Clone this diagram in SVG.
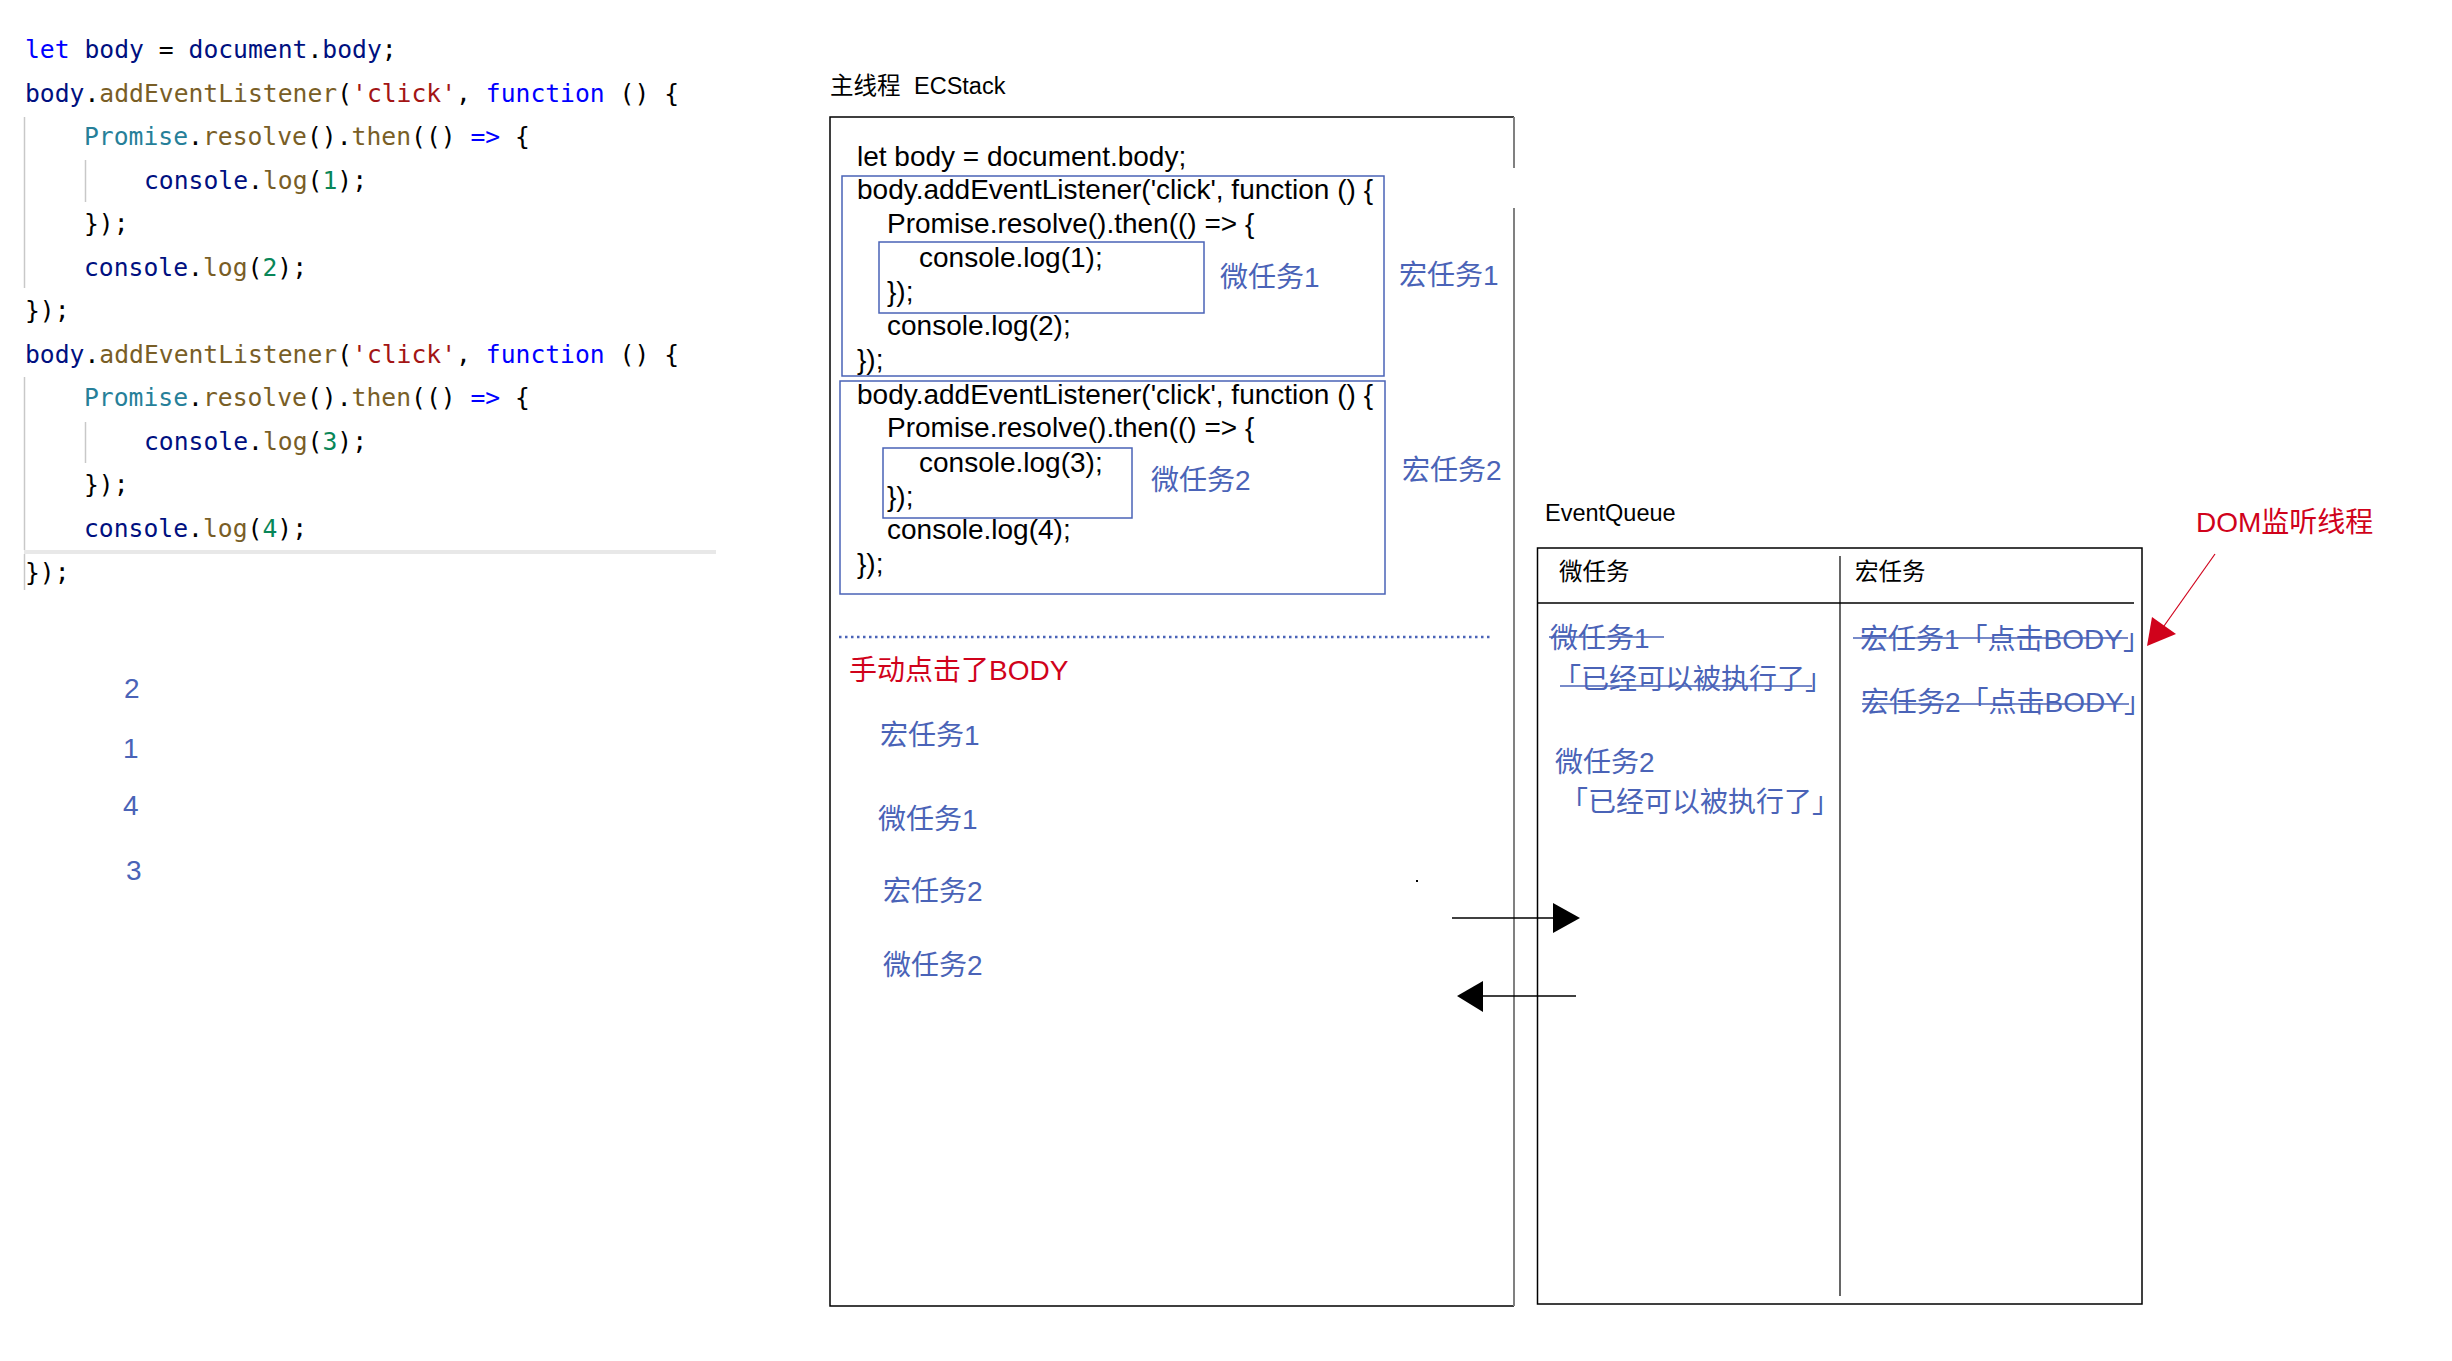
<svg xmlns="http://www.w3.org/2000/svg" width="2452" height="1361" viewBox="0 0 2452 1361">
<style>
.code{font-family:"DejaVu Sans Mono","Liberation Mono",monospace;font-size:24.7px;fill:#000;white-space:pre}
.kw{fill:#0000ff}.vr{fill:#001080}.fn{fill:#795e26}.st{fill:#a31515}.ty{fill:#267f99}.nm{fill:#098658}
.js{font-family:"Liberation Sans",Arial,sans-serif;font-size:28px;fill:#000}
.lbl{font-family:"Liberation Sans","Noto Sans CJK SC",sans-serif;font-size:28px;fill:#4a63b7}
.red{font-family:"Liberation Sans","Noto Sans CJK SC",sans-serif;font-size:28px;fill:#d0021b}
.hd{font-family:"Liberation Sans","Noto Sans CJK SC",sans-serif;font-size:23.5px;fill:#000}
.bbox{fill:none;stroke:#4a63b7;stroke-width:1.5}
.strike{stroke:#4a63b7;stroke-width:1.5}
.guide{stroke:#c8c8c8;stroke-width:1.5}
</style>
<rect width="2452" height="1361" fill="#fff"/>

<g id="code-editor">
  <rect x="24" y="550" width="692" height="4" fill="#e8e8e8"/>
  <line class="guide" x1="24.5" y1="117" x2="24.5" y2="288"/>
  <line class="guide" x1="85.5" y1="160" x2="85.5" y2="202"/>
  <line class="guide" x1="24.5" y1="377" x2="24.5" y2="550"/>
  <line class="guide" x1="85.5" y1="422" x2="85.5" y2="463"/>
  <line class="guide" x1="24.5" y1="554" x2="24.5" y2="590"/>
  <text class="code" x="25" y="58"><tspan class="kw">let</tspan> <tspan class="vr">body</tspan> = <tspan class="vr">document</tspan>.<tspan class="vr">body</tspan>;</text>
  <text class="code" x="25" y="101.5"><tspan class="vr">body</tspan>.<tspan class="fn">addEventListener</tspan>(<tspan class="st">'click'</tspan>, <tspan class="kw">function</tspan> () {</text>
  <text class="code" x="84" y="145"><tspan class="ty">Promise</tspan>.<tspan class="fn">resolve</tspan>().<tspan class="fn">then</tspan>(() <tspan class="kw">=&gt;</tspan> {</text>
  <text class="code" x="144" y="188.5"><tspan class="vr">console</tspan>.<tspan class="fn">log</tspan>(<tspan class="nm">1</tspan>);</text>
  <text class="code" x="84" y="232">});</text>
  <text class="code" x="84" y="275.5"><tspan class="vr">console</tspan>.<tspan class="fn">log</tspan>(<tspan class="nm">2</tspan>);</text>
  <text class="code" x="25" y="319">});</text>
  <text class="code" x="25" y="362.5"><tspan class="vr">body</tspan>.<tspan class="fn">addEventListener</tspan>(<tspan class="st">'click'</tspan>, <tspan class="kw">function</tspan> () {</text>
  <text class="code" x="84" y="406"><tspan class="ty">Promise</tspan>.<tspan class="fn">resolve</tspan>().<tspan class="fn">then</tspan>(() <tspan class="kw">=&gt;</tspan> {</text>
  <text class="code" x="144" y="449.5"><tspan class="vr">console</tspan>.<tspan class="fn">log</tspan>(<tspan class="nm">3</tspan>);</text>
  <text class="code" x="84" y="493">});</text>
  <text class="code" x="84" y="536.5"><tspan class="vr">console</tspan>.<tspan class="fn">log</tspan>(<tspan class="nm">4</tspan>);</text>
  <text class="code" x="25" y="581">});</text>
</g>

<g id="output-log">
  <text class="lbl" x="124" y="698">2</text>
  <text class="lbl" x="123" y="758">1</text>
  <text class="lbl" x="123" y="815">4</text>
  <text class="lbl" x="126" y="880">3</text>
</g>

<g id="ecstack-title">
  <text class="hd" x="830" y="94">主线程<tspan x="914">ECStack</tspan></text>
</g>

<g id="ecstack">
  <path d="M1514,117 H830 V1306 H1514" fill="none" stroke="#000" stroke-width="1.5"/>
  <path d="M1514,117 V168 M1514,208 V1306" fill="none" stroke="#808080" stroke-width="2"/>
  <text class="js" x="857" y="166">let body = document.body;</text>
  <line x1="839" y1="637" x2="1493" y2="637" stroke="#4a63b7" stroke-width="2.5" stroke-dasharray="2.5 3.5"/>
  <text class="red" x="849" y="680">手动点击了BODY</text>
  <text class="lbl" x="880" y="745">宏任务1</text>
  <text class="lbl" x="878" y="829">微任务1</text>
  <text class="lbl" x="883" y="901">宏任务2</text>
  <text class="lbl" x="883" y="975">微任务2</text>
  <rect x="1416" y="880" width="2" height="2" fill="#000"/>
</g>

<g id="macrotask1">
  <rect class="bbox" x="842" y="176" width="542" height="200"/>
  <text class="js" x="857" y="199">body.addEventListener('click', function () {</text>
  <text class="js" x="887" y="233">Promise.resolve().then(() =&gt; {</text>
  <text class="js" x="887" y="335">console.log(2);</text>
  <text class="js" x="857" y="369">});</text>
  <text class="lbl" x="1399" y="285">宏任务1</text>
</g>
<g id="microtask1">
  <rect class="bbox" x="879" y="242" width="325" height="71"/>
  <text class="js" x="919" y="267">console.log(1);</text>
  <text class="js" x="887" y="301">});</text>
  <text class="lbl" x="1220" y="287">微任务1</text>
</g>

<g id="macrotask2">
  <rect class="bbox" x="840" y="381" width="545" height="213"/>
  <text class="js" x="857" y="404">body.addEventListener('click', function () {</text>
  <text class="js" x="887" y="437">Promise.resolve().then(() =&gt; {</text>
  <text class="js" x="887" y="539">console.log(4);</text>
  <text class="js" x="857" y="573">});</text>
  <text class="lbl" x="1402" y="480">宏任务2</text>
</g>
<g id="microtask2">
  <rect class="bbox" x="883" y="448" width="249" height="70"/>
  <text class="js" x="919" y="472">console.log(3);</text>
  <text class="js" x="887" y="506">});</text>
  <text class="lbl" x="1151" y="490">微任务2</text>
</g>

<g id="eventqueue-title">
  <text class="hd" x="1545" y="521">EventQueue</text>
</g>

<g id="eventqueue">
  <rect x="1537.5" y="548" width="604.5" height="756" fill="none" stroke="#000" stroke-width="1.5"/>
  <line x1="1537" y1="603" x2="2134" y2="603" stroke="#000" stroke-width="1.5"/>
  <line x1="1840" y1="556" x2="1840" y2="1296" stroke="#000" stroke-width="1.2"/>
  <text class="hd" x="1559" y="580">微任务</text>
  <text class="hd" x="1855" y="580">宏任务</text>
  <text class="lbl" x="1550" y="648">微任务1</text>
  <line class="strike" x1="1549" y1="637" x2="1664" y2="637"/>
  <text class="lbl" x="1553" y="689">「已经可以被执行了」</text>
  <line class="strike" x1="1560" y1="686" x2="1812" y2="686"/>
  <text class="lbl" x="1555" y="772">微任务2</text>
  <text class="lbl" x="1560" y="812">「已经可以被执行了」</text>
  <text class="lbl" x="1860" y="649">宏任务1「点击BODY」</text>
  <line class="strike" x1="1853" y1="638" x2="2128" y2="638"/>
  <text class="lbl" x="1861" y="712">宏任务2「点击BODY」</text>
  <line class="strike" x1="1862" y1="704" x2="2129" y2="704"/>
</g>

<g id="dom-thread">
  <text class="red" x="2196" y="532">DOM监听线程</text>
</g>

<g id="connectors">
  <line x1="1452" y1="918" x2="1554" y2="918" stroke="#000" stroke-width="1.5"/>
  <polygon points="1553,903 1580,918 1553,933" fill="#000"/>
  <line x1="1576" y1="996" x2="1482" y2="996" stroke="#000" stroke-width="1.5"/>
  <polygon points="1483,981 1457,996 1483,1012" fill="#000"/>
  <line x1="2215" y1="554" x2="2164" y2="626" stroke="#d0021b" stroke-width="1.2"/>
  <polygon points="2152,617 2176,634 2147,646" fill="#d0021b"/>
</g>
</svg>
